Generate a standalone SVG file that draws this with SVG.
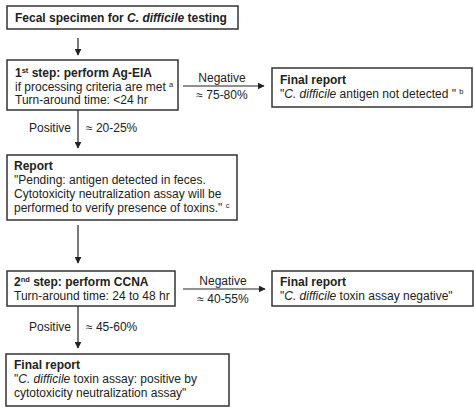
<svg xmlns="http://www.w3.org/2000/svg" width="474" height="411" viewBox="0 0 474 411">
<defs>
<marker id="ah" viewBox="0 0 10 10" refX="9" refY="5" markerWidth="7" markerHeight="7" orient="auto" markerUnits="userSpaceOnUse"><path d="M0,0 L10,5 L0,10 z" fill="#222"/></marker>
<style>
.box{fill:#fff;stroke:#333;stroke-width:1.5}
text{font-family:"Liberation Sans",Arial,sans-serif;font-size:12px;fill:#222}
.b{font-weight:bold}
.i{font-style:italic}
.sup{font-size:7.5px}
.ln{stroke:#222;stroke-width:1.2;fill:none}
.mid{text-anchor:middle}
.end{text-anchor:end}
</style>
</defs>
<rect width="474" height="411" fill="#fff"/>
<g id="connectors">
<line class="ln" x1="78" y1="38" x2="78" y2="55" marker-end="url(#ah)"/>
<line class="ln" x1="183" y1="86" x2="264" y2="86" marker-end="url(#ah)"/>
<text class="mid" x="222" y="82">Negative</text>
<text class="mid" x="222" y="99">≈ 75-80%</text>
<line class="ln" x1="78" y1="110" x2="78" y2="148" marker-end="url(#ah)"/>
<text class="end" x="71" y="132">Positive</text>
<text x="86" y="132">≈ 20-25%</text>
<line class="ln" x1="78" y1="225" x2="78" y2="263" marker-end="url(#ah)"/>
<line class="ln" x1="183" y1="289" x2="265" y2="289" marker-end="url(#ah)"/>
<text class="mid" x="223" y="285">Negative</text>
<text class="mid" x="223" y="303">≈ 40-55%</text>
<line class="ln" x1="78" y1="306" x2="78" y2="348" marker-end="url(#ah)"/>
<text class="end" x="71" y="331">Positive</text>
<text x="86" y="331">≈ 45-60%</text>
</g>
<g id="n1">
<rect class="box" x="7" y="6" width="231" height="23"/>
<text class="b" x="15" y="22">Fecal specimen for <tspan class="i">C. difficile</tspan> testing</text>
</g>
<g id="n2">
<rect class="box" x="7" y="60" width="171" height="50"/>
<text class="b" x="15" y="77">1<tspan class="sup" dy="-4">st</tspan><tspan dy="4"> step: perform Ag-EIA</tspan></text>
<text x="15" y="90.5">if processing criteria are met <tspan class="sup" dy="-4">a</tspan></text>
<text x="15" y="104">Turn-around time: &lt;24 hr</text>
</g>
<g id="n3">
<rect class="box" x="272" y="68" width="200" height="39"/>
<text class="b" x="280" y="84">Final report</text>
<text x="280" y="98">"<tspan class="i">C. difficile</tspan> antigen not detected " <tspan class="sup" dy="-4">b</tspan></text>
</g>
<g id="n4">
<rect class="box" x="7" y="155" width="230" height="65"/>
<text class="b" x="14" y="170">Report</text>
<text x="14" y="184">"Pending: antigen detected in feces.</text>
<text x="14" y="198">Cytotoxicity neutralization assay will be</text>
<text x="14" y="212">performed to verify presence of toxins." <tspan class="sup" dy="-4">c</tspan></text>
</g>
<g id="n5">
<rect class="box" x="7" y="271" width="168" height="35"/>
<text class="b" x="14" y="286">2<tspan class="sup" dy="-4">nd</tspan><tspan dy="4"> step: perform CCNA</tspan></text>
<text x="14" y="300">Turn-around time: 24 to 48 hr</text>
</g>
<g id="n6">
<rect class="box" x="272" y="271" width="201" height="35"/>
<text class="b" x="280" y="286">Final report</text>
<text x="280" y="300">"<tspan class="i">C. difficile</tspan> toxin assay negative"</text>
</g>
<g id="n7">
<rect class="box" x="6" y="354" width="223" height="52"/>
<text class="b" x="14" y="369">Final report</text>
<text x="14" y="383">"<tspan class="i">C. difficile</tspan> toxin assay: positive by</text>
<text x="14" y="397">cytotoxicity neutralization assay"</text>
</g>
</svg>
